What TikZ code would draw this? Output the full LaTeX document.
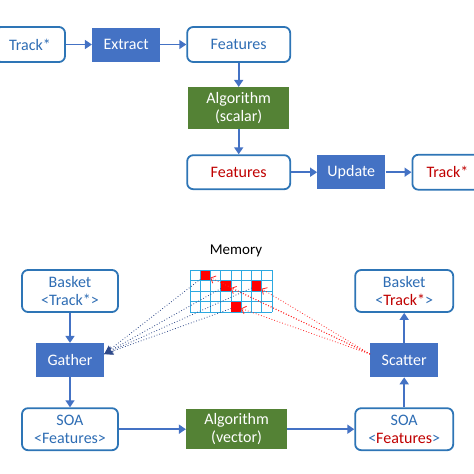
\documentclass[tikz,border=0pt]{standalone}
\usepackage{fontspec}
\setmainfont{Carlito}
\usetikzlibrary{positioning,arrows.meta}
\definecolor{boxblue}{HTML}{4472C4}
\definecolor{algogreen}{HTML}{548235}
\definecolor{edgeblue}{HTML}{2E75B6}
\definecolor{txtblue}{HTML}{2E6DB4}
\definecolor{txtred}{HTML}{C00000}
\definecolor{memcyan}{HTML}{2CA9E1}
\definecolor{gathblue}{HTML}{2F4A8A}
\begin{document}
\begin{tikzpicture}[x=1pt,y=-1pt,
    font=\fontsize{16}{17.5}\selectfont,
    rbox/.style = {draw=edgeblue, line width=1.8pt, rounded corners=6pt, fill=white, text=txtblue, align=center, inner sep=0pt},
    fbox/.style = {fill=boxblue, text=white, minimum width=68pt, minimum height=34pt, inner sep=0pt},
    gbox/.style = {fill=algogreen, text=white, align=center, minimum width=101pt, inner sep=0pt},
    cell/.style = {fill=red, minimum size=9.5pt, inner sep=0pt},
    arr/.style = {draw=boxblue, line width=1.6pt, -{Triangle[length=7pt,width=9pt]}},
    rd/.style = {draw=red!85!white, line width=0.8pt, dotted, -{Straight Barb[length=4pt,width=8pt]}},
    bd/.style = {draw=gathblue, line width=0.8pt, dotted, -{Stealth[length=9pt,width=8pt]}}]
    \useasboundingbox (0,0) rectangle (474,474);
    % scalar path
    \node[rbox, minimum width=70pt, minimum height=35pt] (track) at (30,44.5) {Track*};
    \node[fbox] (extract) [right=26pt of track] {Extract};
    \node[rbox, minimum width=103pt, minimum height=35pt] (feat) [right=26pt of extract] {Features};
    \node[gbox, minimum height=42pt] (algs) [below=24pt of feat] {Algorithm\\(scalar)};
    \node[rbox, minimum width=103pt, minimum height=34pt, text=txtred] (featout) [below=25pt of algs] {Features};
    \node[fbox] (update) [right=26pt of featout] {Update};
    \node[rbox, minimum width=70pt, minimum height=35pt, text=txtred] (trackout) [right=26pt of update] {Track*};
    \draw[arr] (track) -- (extract);
    \draw[arr] (extract) -- (feat);
    \draw[arr] (feat) -- (algs);
    \draw[arr] (algs) -- (featout);
    \draw[arr] (featout) -- (update);
    \draw[arr] (update) -- (trackout);
    % memory
    \node[font=\fontsize{15}{17}\selectfont] (mem) at (236,251) {Memory};
    \foreach \i in {0,...,8}
        \draw[memcyan, line width=0.8pt] (190+\i*10.25,270) -- (190+\i*10.25,312);
    \foreach \j in {0,...,4}
        \draw[memcyan, line width=0.8pt] (190,270+\j*10.5) -- (272,270+\j*10.5);
    \node[cell] (m1) at (205.4,275.25) {};
    \node[cell] (m2) at (225.9,285.75) {};
    \node[cell] (m3) at (256.6,285.75) {};
    \node[cell] (m4) at (236.1,306.75) {};
    % vector path
    \node[rbox, minimum width=96pt, minimum height=42pt] (bask) at (70,291) {Basket\\<Track*>};
    \node[fbox] (gather) [below=30pt of bask] {Gather};
    \node[rbox, minimum width=96pt, minimum height=42pt] (soa) [below=30pt of gather] {SOA\\<Features>};
    \node[gbox, minimum height=40pt] (algv) [right=67pt of soa] {Algorithm\\(vector)};
    \node[rbox, minimum width=98pt, minimum height=42pt] (soaout) [right=67pt of algv] {SOA\\<\textcolor{txtred}{Features}>};
    \node[fbox] (scatter) [above=30pt of soaout] {Scatter};
    \node[rbox, minimum width=98pt, minimum height=42pt] (baskout) [above=30pt of scatter] {Basket\\<\textcolor{txtred}{Track*}>};
    \draw[arr] (bask) -- (gather);
    \draw[arr] (gather) -- (soa);
    \draw[arr] (soa) -- (algv);
    \draw[arr] (algv) -- (soaout);
    \draw[arr] (soaout) -- (scatter);
    \draw[arr] (scatter) -- (baskout);
    % memory access
    \foreach \m in {m1,m2,m3,m4} {
        \draw[bd] (\m) -- (gather.10);
        \draw[rd] (scatter.170) -- (\m);
    }
\end{tikzpicture}
\end{document}
